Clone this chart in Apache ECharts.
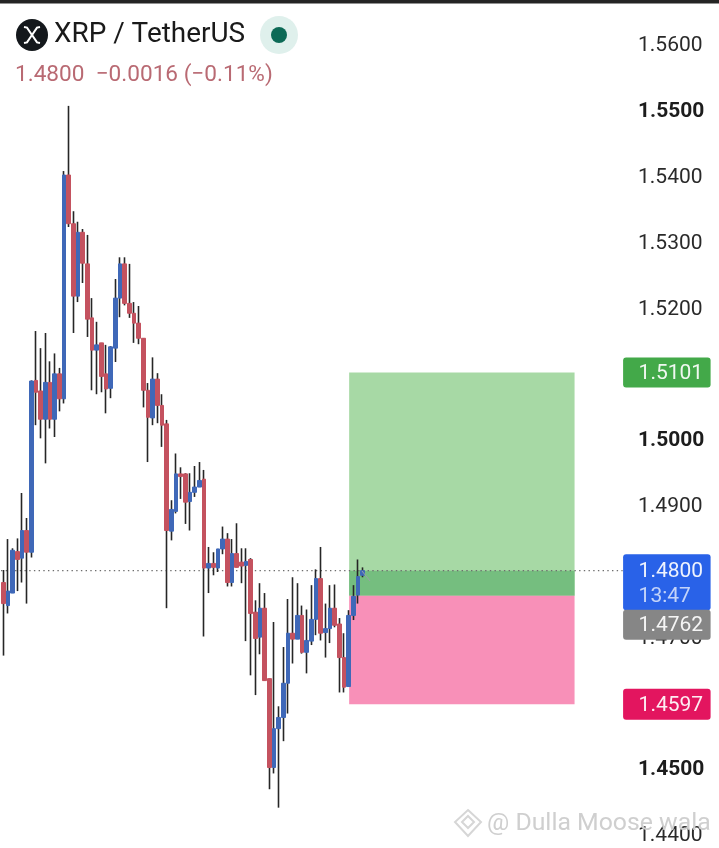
<!DOCTYPE html>
<html><head><meta charset="utf-8">
<style>html,body{margin:0;padding:0;background:#fff}#c{width:719px;height:848px}</style>
<script src="https://cdn.jsdelivr.net/npm/echarts@6/dist/echarts.min.js"></script>
</head><body><div id="c"></div>
<script>
const open_ = [1.4782,1.4747,1.4766,1.4829,1.4819,1.4861,1.4828,1.5089,1.5073,1.5030,1.5086,1.5030,1.5099,1.5061,1.5401,1.5327,1.5217,1.5314,1.5266,1.5184,1.5135,1.5146,1.5099,1.5077,1.5138,1.5214,1.5266,1.5206,1.5191,1.5176,1.5153,1.5074,1.5032,1.5091,1.5051,1.5023,1.4860,1.4890,1.4947,1.4947,1.4905,1.4919,1.4927,1.4939,1.4804,1.4811,1.4804,1.4833,1.4848,1.4782,1.4826,1.4813,1.4808,1.4817,1.4737,1.4699,1.4743,1.4636,1.4501,1.4560,1.4577,1.4629,1.4705,1.4696,1.4732,1.4676,1.4693,1.4726,1.4788,1.4706,1.4712,1.4743,1.4719,1.4668,1.4624,1.4732,1.4763,1.4793];
const close_ = [1.4750,1.4769,1.4831,1.4817,1.4861,1.4828,1.5088,1.5071,1.5030,1.5086,1.5030,1.5099,1.5061,1.5401,1.5327,1.5217,1.5314,1.5267,1.5182,1.5135,1.5143,1.5095,1.5076,1.5140,1.5214,1.5266,1.5206,1.5191,1.5176,1.5153,1.5074,1.5033,1.5091,1.5051,1.5021,1.4861,1.4893,1.4947,1.4943,1.4904,1.4919,1.4927,1.4937,1.4804,1.4811,1.4805,1.4833,1.4848,1.4782,1.4826,1.4805,1.4807,1.4814,1.4735,1.4697,1.4743,1.4633,1.4501,1.4560,1.4577,1.4629,1.4705,1.4696,1.4732,1.4676,1.4694,1.4726,1.4788,1.4705,1.4712,1.4743,1.4717,1.4668,1.4623,1.4732,1.4761,1.4791,1.4800];
const high_ = [1.4801,1.4848,1.4834,1.4849,1.4918,1.4880,1.5089,1.5164,1.5138,1.5161,1.5118,1.5130,1.5108,1.5407,1.5506,1.5346,1.5330,1.5319,1.5310,1.5214,1.5178,1.5146,1.5143,1.5141,1.5243,1.5276,1.5276,1.5266,1.5208,1.5202,1.5153,1.5085,1.5124,1.5100,1.5068,1.5029,1.4907,1.4978,1.4957,1.4948,1.4948,1.4959,1.4965,1.4953,1.4836,1.4828,1.4833,1.4867,1.4857,1.4848,1.4872,1.4834,1.4834,1.4819,1.4755,1.4781,1.4766,1.4636,1.4722,1.4594,1.4684,1.4757,1.4790,1.4781,1.4747,1.4741,1.4778,1.4802,1.4836,1.4750,1.4778,1.4779,1.4728,1.4705,1.4740,1.4778,1.4817,1.4805];
const low_ = [1.4671,1.4735,1.4766,1.4769,1.4782,1.4750,1.4820,1.5021,1.5001,1.4963,1.5016,1.5003,1.5042,1.5054,1.5322,1.5161,1.5208,1.5237,1.5155,1.5074,1.5068,1.5071,1.5039,1.5062,1.5117,1.5185,1.5203,1.5184,1.5146,1.5144,1.5048,1.4965,1.5021,1.5024,1.4988,1.4743,1.4846,1.4887,1.4909,1.4871,1.4861,1.4912,1.4927,1.4700,1.4766,1.4793,1.4798,1.4825,1.4776,1.4776,1.4805,1.4781,1.4693,1.4641,1.4611,1.4673,1.4633,1.4468,1.4492,1.4440,1.4541,1.4583,1.4659,1.4696,1.4674,1.4644,1.4687,1.4702,1.4694,1.4668,1.4690,1.4714,1.4615,1.4615,1.4624,1.4725,1.4750,1.4790];
const zoneEdges = [74.6, 122.9];
const targetPrice = 1.5101, entryPrice = 1.4762, stopPrice = 1.4597, lastPrice = 1.4800;
const zones = [[targetPrice, entryPrice, '#a7d9a5'], [lastPrice, entryPrice, '#75be7f'], [entryPrice, stopPrice, '#f890b8']];
const priceLineSpan = [0, 133.2];
const axisMin = 1.44, axisMax = 1.56, axisStep = 0.01;
const slotCount = 136;
const titleText = 'XRP / TetherUS';
const quoteText = '1.4800  \u22120.0016 (\u22120.11%)';
const watermarkText = '@ Dulla Moose wala';
const tags = [
  {lines:['1.5101'], price:targetPrice, color:'#43a949', shift:0, h:30},
  {lines:['1.4800','13:47'], price:lastPrice, color:'#2962e8', shift:11.5, h:56},
  {lines:['1.4762'], price:entryPrice, color:'#868686', shift:29, h:30},
  {lines:['1.4597'], price:stopPrice, color:'#e3155f', shift:0, h:31}
];
const FONT = 'Roboto, sans-serif';
const BLUE = '#3f68b8', RED = '#c4525f', WICK = '#262626';
const slots = Array.from({length: slotCount}, (_, i) => String(i));
const wickData = open_.map((o, i) => [o, close_[i], low_[i], high_[i]]);
const bodyData = open_.map((o, i) => [o, close_[i], Math.min(o, close_[i]), Math.max(o, close_[i])]);

const chart = echarts.init(document.getElementById('c'), null, {renderer: 'canvas'});
chart.setOption({
  animation: false,
  backgroundColor: '#fff',
  grid: {left: 1, right: 83.3, top: 44, bottom: 14},
  xAxis: [
    {type: 'category', data: slots, show: false, boundaryGap: true},
    {type: 'value', min: 0, max: slotCount, show: false}
  ],
  yAxis: {
    type: 'value', position: 'right', min: axisMin, max: axisMax, interval: axisStep, scale: true,
    axisLine: {show: false}, axisTick: {show: false}, splitLine: {show: false},
    axisLabel: {
      margin: 2.3, fontFamily: FONT, fontSize: 21, color: '#2a2a2a', align: 'left',
      formatter: v => (Math.round(v * 1000) % 50 === 0 ? '{b|' + v.toFixed(4) + '}' : '{n|' + v.toFixed(4) + '}'),
      rich: {
        b: {fontFamily: FONT, fontSize: 21, fontWeight: 'bold', color: '#1c1c1c', padding: [4, 0, 0, 0]},
        n: {fontFamily: FONT, fontSize: 21, color: '#2a2a2a', padding: [4, 0, 0, 0]}
      }
    }
  },
  series: [
    {
      name: 'zones', type: 'custom', xAxisIndex: 1, silent: true, z: 1,
      data: zones.map(z => [zoneEdges[0], zoneEdges[1], z[0], z[1]]),
      renderItem: (p, api) => {
        const a = api.coord([api.value(0), api.value(2)]), b = api.coord([api.value(1), api.value(3)]);
        return {type: 'rect', shape: {x: a[0], y: a[1], width: b[0] - a[0], height: b[1] - a[1]},
                style: {fill: zones[p.dataIndex][2]}};
      }
    },
    {
      name: 'last price', type: 'line', xAxisIndex: 1, silent: true, z: 2, symbol: 'none',
      data: [[priceLineSpan[0], lastPrice], [priceLineSpan[1], lastPrice]],
      lineStyle: {color: '#6e6e6e', width: 1.1, type: [1.4, 3.3]}
    },
    {
      name: 'wicks', type: 'candlestick', silent: true, z: 3, barWidth: 0.4, data: wickData,
      itemStyle: {color: WICK, color0: WICK, borderColor: WICK, borderColor0: WICK, borderWidth: 1.6}
    },
    {
      name: 'bodies', type: 'candlestick', silent: true, z: 4, barWidth: 4, data: bodyData,
      itemStyle: {color: BLUE, color0: RED, borderColor: BLUE, borderColor0: RED, borderWidth: 1}
    },
    {
      name: 'tags', type: 'custom', xAxisIndex: 1, silent: true, z: 6, clip: false,
      data: tags.map(t => [133.3, t.price]),
      renderItem: (p, api) => {
        const t = tags[p.dataIndex];
        const c = api.coord([api.value(0), api.value(1)]);
        const cy = c[1] + t.shift, top = cy - t.h / 2, two = t.lines.length > 1;
        const kids = [{type: 'rect', shape: {x: c[0], y: top, width: 87.5, height: t.h, r: 3}, style: {fill: t.color}}];
        t.lines.forEach((s, i) => kids.push({
          type: 'text', z2: 2,
          style: {text: s, x: c[0] + 15.5, y: (two ? top + 16 + i * 25.5 : cy) + 1.5, verticalAlign: 'middle', align: 'left',
                  font: '21px ' + FONT, fill: i ? 'rgba(255,255,255,0.72)' : 'rgba(255,255,255,0.92)'}
        }));
        return {type: 'group', children: kids};
      }
    }
  ],
  graphic: [
    {type: 'rect', z: 10, shape: {x: 0, y: 0, width: 719, height: 3.5}, style: {fill: '#242424'}},
    {type: 'circle', z: 10, shape: {cx: 32, cy: 35, r: 16}, style: {fill: '#14181c'}},
    {type: 'polyline', z: 11, shape: {points: [[24, 27], [27, 27.6], [32, 35], [37, 27.6], [40, 27]]}, style: {fill: null, stroke: '#fff', lineWidth: 2}},
    {type: 'polyline', z: 11, shape: {points: [[24, 43], [27, 42.4], [32, 35], [37, 42.4], [40, 43]]}, style: {fill: null, stroke: '#fff', lineWidth: 2}},
    {type: 'text', z: 10, style: {text: titleText, x: 54, y: 35.5, verticalAlign: 'middle', font: '27.9px ' + FONT, fill: '#1a1a1a'}},
    {type: 'circle', z: 10, shape: {cx: 279, cy: 35, r: 19}, style: {fill: '#dff0ec'}},
    {type: 'circle', z: 11, shape: {cx: 279, cy: 35, r: 8}, style: {fill: '#0c6a56'}},
    {type: 'text', z: 10, style: {text: quoteText, x: 15, y: 75, verticalAlign: 'middle', font: '22.6px ' + FONT, fill: '#b96a73'}},
    {type: 'polyline', z: 5, shape: {points: [[362, 571], [370, 581]]}, style: {fill: null, stroke: '#9aa0a8', lineWidth: 1}},
    {type: 'polygon', z: 1, shape: {points: [[468, 810], [481, 822], [468, 836], [455, 822]]}, style: {fill: null, stroke: '#d6d6d6', lineWidth: 2}},
    {type: 'polygon', z: 1, shape: {points: [[468, 816], [474, 822], [468, 828], [462, 822]]}, style: {fill: null, stroke: '#d6d6d6', lineWidth: 2}},
    {type: 'text', z: 1, style: {text: watermarkText, x: 487, y: 824, verticalAlign: 'middle', font: '24.8px ' + FONT, fill: '#cfcfcf'}}
  ]
});
</script></body></html>
